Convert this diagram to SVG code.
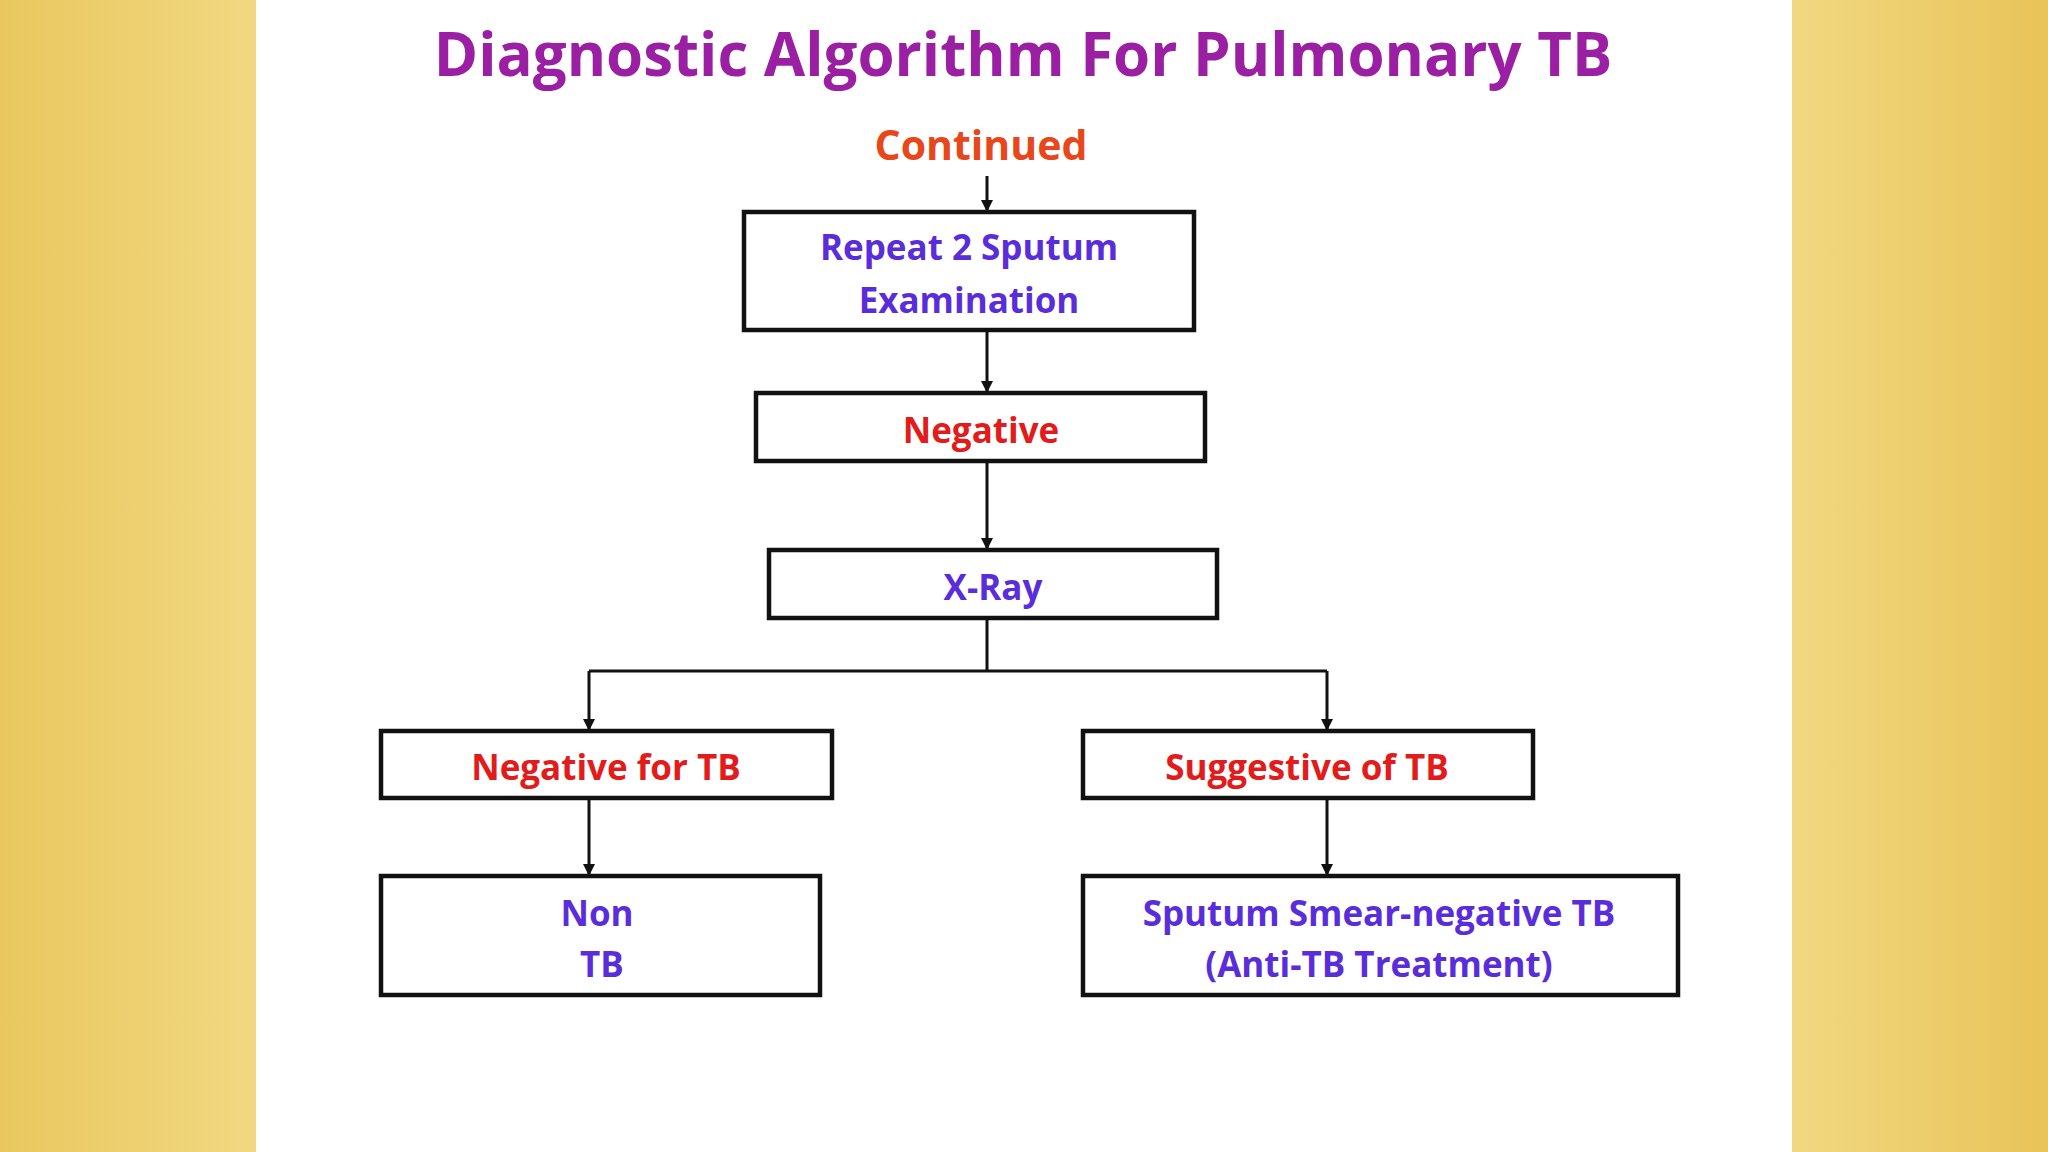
<svg xmlns="http://www.w3.org/2000/svg" width="2048" height="1152" viewBox="0 0 2048 1152">
<defs>
<linearGradient id="bg" x1="0" y1="0" x2="1" y2="0">
<stop offset="0" stop-color="#E9C75E"/><stop offset="0.12" stop-color="#F1D780"/><stop offset="0.88" stop-color="#F1D780"/><stop offset="1" stop-color="#E8C358"/>
</linearGradient>
<marker id="ah" viewBox="0 0 10 10" refX="10" refY="5" markerWidth="4" markerHeight="4" orient="auto"><path d="M0,0L10,5L0,10z" fill="#111"/></marker>
<style>
.box{fill:#fff;stroke:#111;stroke-width:4.5}
.t{font-family:"Open Sans","Liberation Sans",sans-serif;font-weight:bold;text-anchor:middle;font-size:35px}
.b{fill:#5A2DDB}.r{fill:#E21B1B}
.c{fill:none;stroke:#111;stroke-width:3}
</style>
</defs>
<rect width="2048" height="1152" fill="url(#bg)"/>
<rect x="256" y="0" width="1536" height="1152" fill="#fff"/>
<text x="1023" y="76" class="t" style="font-size:60px" fill="#9A1FA3">Diagnostic Algorithm For Pulmonary TB</text>
<text x="981" y="160" class="t" style="font-size:41px" fill="#E8471C">Continued</text>
<g id="connectors">
<path class="c" d="M987 176V212" marker-end="url(#ah)"/>
<path class="c" d="M987 330V393" marker-end="url(#ah)"/>
<path class="c" d="M987 461V550" marker-end="url(#ah)"/>
<path class="c" d="M987 618V671M589 671H1327"/>
<path class="c" d="M589 671V731" marker-end="url(#ah)"/>
<path class="c" d="M1327 671V731" marker-end="url(#ah)"/>
<path class="c" d="M589 798V876" marker-end="url(#ah)"/>
<path class="c" d="M1327 798V876" marker-end="url(#ah)"/>
</g>
<g id="n1"><rect class="box" x="744" y="212" width="450" height="118"/><text class="t b" x="969" y="260">Repeat 2 Sputum</text><text class="t b" x="969" y="313">Examination</text></g>
<g id="n2"><rect class="box" x="756" y="393" width="449" height="68"/><text class="t r" x="981" y="443">Negative</text></g>
<g id="n3"><rect class="box" x="769" y="550" width="448" height="68"/><text class="t b" x="993" y="600">X-Ray</text></g>
<g id="n4"><rect class="box" x="381" y="731" width="451" height="67"/><text class="t r" x="606" y="780">Negative for TB</text></g>
<g id="n5"><rect class="box" x="1083" y="731" width="450" height="67"/><text class="t r" x="1307" y="780">Suggestive of TB</text></g>
<g id="n6"><rect class="box" x="381" y="876" width="439" height="119"/><text class="t b" x="597" y="926">Non</text><text class="t b" x="602" y="977">TB</text></g>
<g id="n7"><rect class="box" x="1083" y="876" width="595" height="119"/><text class="t b" x="1379" y="926">Sputum Smear-negative TB</text><text class="t b" x="1379" y="977">(Anti-TB Treatment)</text></g>
</svg>
